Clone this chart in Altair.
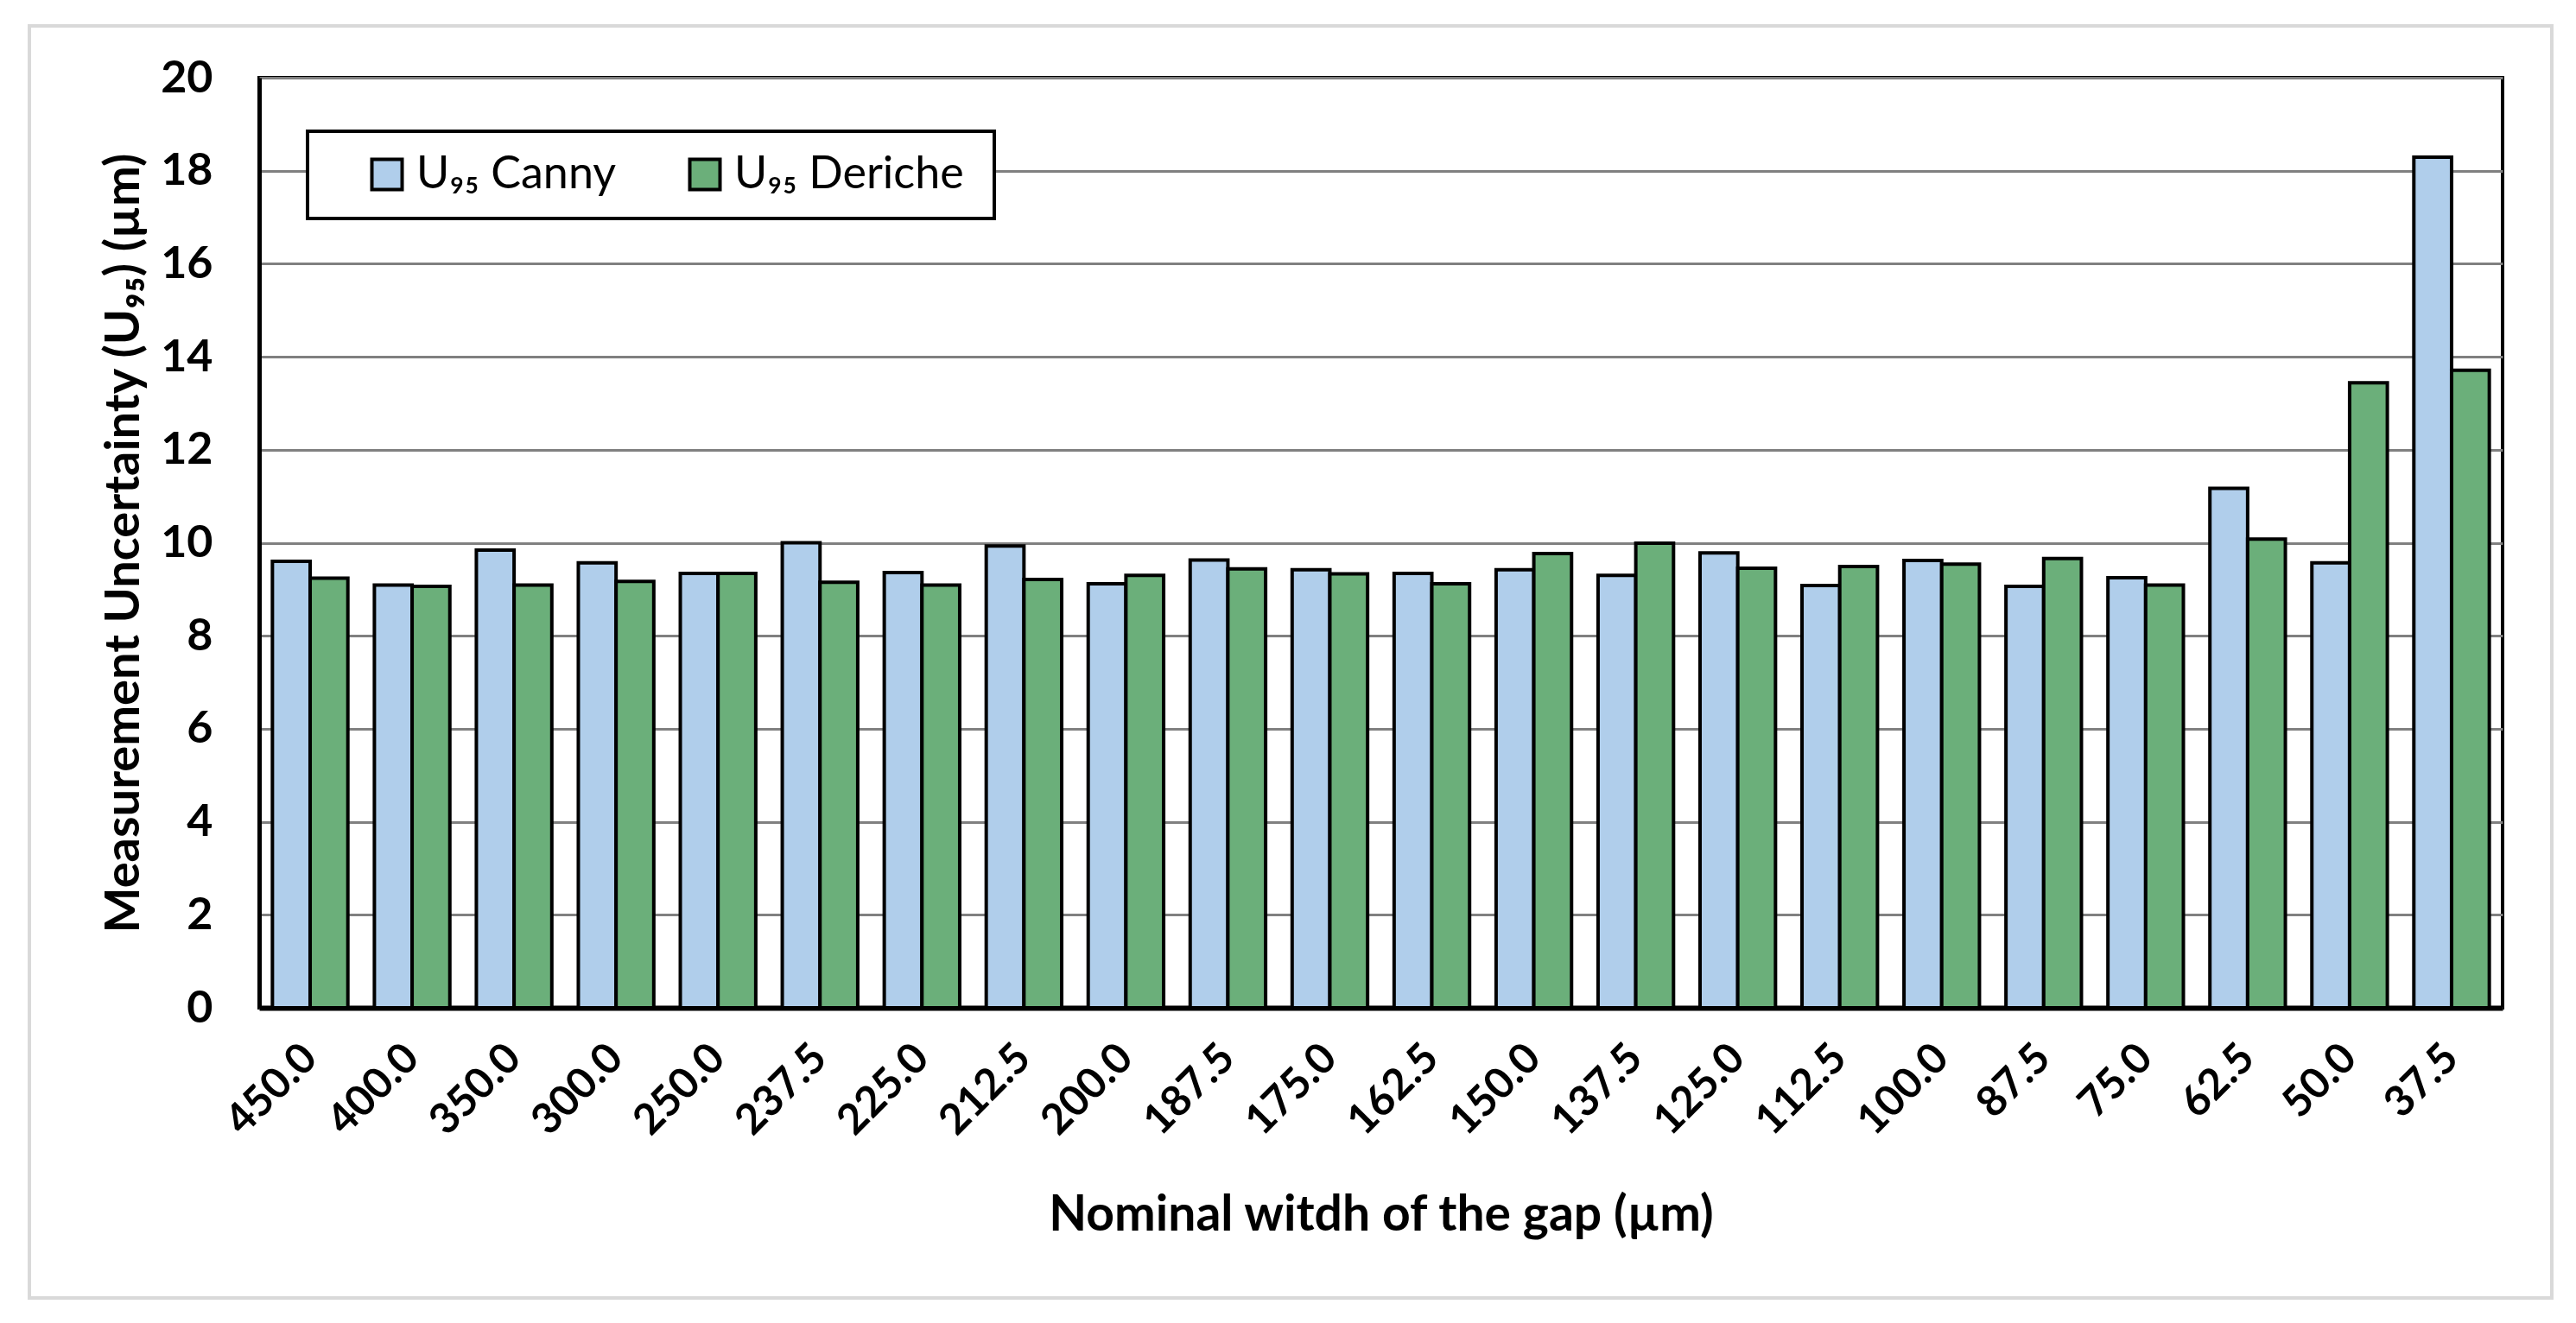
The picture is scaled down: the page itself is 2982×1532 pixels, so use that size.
import altair as alt
import pandas as pd

categories = ["450.0", "400.0", "350.0", "300.0", "250.0", "237.5", "225.0", "212.5",
              "200.0", "187.5", "175.0", "162.5", "150.0", "137.5", "125.0", "112.5",
              "100.0", "87.5", "75.0", "62.5", "50.0", "37.5"]
canny = [9.60, 9.09, 9.84, 9.57, 9.34, 10.00, 9.36, 9.93, 9.12, 9.63, 9.42, 9.34,
         9.42, 9.30, 9.78, 9.08, 9.62, 9.06, 9.25, 11.17, 9.57, 18.29]
deriche = [9.24, 9.06, 9.09, 9.17, 9.34, 9.15, 9.09, 9.21, 9.30, 9.44, 9.33, 9.12,
           9.77, 9.99, 9.45, 9.49, 9.54, 9.66, 9.09, 10.08, 13.44, 13.71]
series_names = ["U\u2089\u2085 Canny", "U\u2089\u2085 Deriche"]
series_colors = ["#B0CEEB", "#6BAF7A"]
y_ticks = [0, 2, 4, 6, 8, 10, 12, 14, 16, 18, 20]

rows = []
for i, c in enumerate(categories):
    rows.append({"gap": c, "series": series_names[0], "value": canny[i]})
    rows.append({"gap": c, "series": series_names[1], "value": deriche[i]})
df = pd.DataFrame(rows)

FONT = "Lato"
W, H = 2597, 1077

bars = alt.Chart(df).mark_bar(stroke="black", strokeWidth=4).encode(
    x=alt.X("gap:N", sort=categories,
            scale=alt.Scale(paddingInner=0.26, paddingOuter=0.13),
            axis=alt.Axis(title="Nominal witdh of the gap (\u00b5m)",
                          labelAngle=-45, labelAlign="right", labelBaseline="middle",
                          labelPadding=50, labelFontSize=49, labelFont=FONT,
                          labelFontWeight="bold", labelColor="black",
                          ticks=False, domainColor="black", domainWidth=6,
                          titleFont=FONT, titleFontSize=57, titleFontWeight="bold",
                          titleColor="black", titleY=240, titleBaseline="middle")),
    xOffset=alt.XOffset("series:N", sort=series_names, scale=alt.Scale(paddingInner=0, paddingOuter=0)),
    y=alt.Y("value:Q", scale=alt.Scale(domain=[0, 20], nice=False),
            axis=alt.Axis(title="Measurement Uncertainty (U\u2089\u2085)  (\u00b5m)",
                          values=y_ticks, labelFontSize=52, labelFont=FONT,
                          labelFontWeight="bold", labelColor="black", labelPadding=54,
                          ticks=False, domainColor="black", domainWidth=5,
                          grid=True, gridColor="#808080", gridWidth=3,
                          titleFont=FONT, titleFontSize=56, titleFontWeight="bold",
                          titleColor="black", titleX=-157, titleY=H / 2,
                          titleAngle=-90, titleAlign="center", titleBaseline="middle")),
    color=alt.Color("series:N", sort=series_names,
                    scale=alt.Scale(domain=series_names, range=series_colors),
                    legend=alt.Legend(title=None, orient="none", legendX=122, legendY=86,
                                      direction="horizontal", columns=2,
                                      symbolType="square", symbolSize=1225,
                                      symbolStrokeColor="black", symbolStrokeWidth=4,
                                      labelFont=FONT, labelFontSize=52, labelColor="black",
                                      labelOffset=8, columnPadding=76, padding=0,
                                      labelLimit=600)),
)

outer = alt.Chart(pd.DataFrame({"k": [0]})).mark_rect(
    fill=None, stroke="#D9D9D9", strokeWidth=4).encode(
    x=alt.value(-266), x2=alt.value(2654), y=alt.value(-60), y2=alt.value(1413))

legend_box = alt.Chart(pd.DataFrame({"k": [0]})).mark_rect(
    fill="white", stroke="black", strokeWidth=4).encode(
    x=alt.value(56), x2=alt.value(851), y=alt.value(62), y2=alt.value(163))

chart = alt.layer(outer, legend_box, bars).properties(
    width=W, height=H,
    autosize=alt.AutoSizeParams(type="none"),
    padding={"left": 292, "top": 82, "right": 70, "bottom": 340},
    background="white",
).configure_view(stroke="black", strokeWidth=4)

chart.save("out.html", embed_options={"renderer": "svg", "actions": False})
